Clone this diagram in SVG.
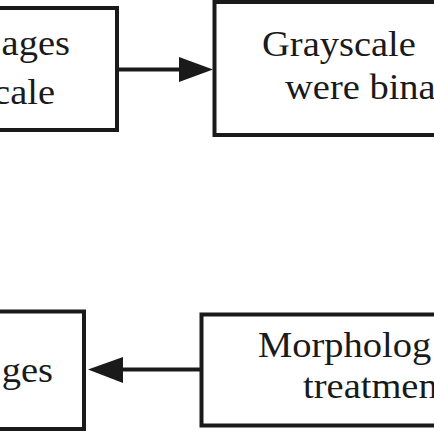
<svg xmlns="http://www.w3.org/2000/svg" width="434" height="434" viewBox="0 0 434 434">
<style>
.box{fill:#fff;stroke:#1a1a1a;stroke-width:4}
.lbl{font-family:"Liberation Serif","Times New Roman",serif;font-size:35px;fill:#1a1a1a}
.conn{stroke:#1a1a1a;stroke-width:4;fill:none}
.head{fill:#1a1a1a}
</style>
<rect width="434" height="434" fill="#fff"/>
<g id="node-convert">
<rect class="box" x="-20" y="8" width="137" height="122"/>
<g transform="scale(1.1 1)">
<text class="lbl" x="63.6" y="55" text-anchor="end">ages</text>
<text class="lbl" x="50" y="104" text-anchor="end">cale</text>
</g>
</g>
<g id="node-binarize">
<rect class="box" x="214.5" y="2" width="240" height="133"/>
<g transform="scale(1.1 1)">
<text class="lbl" x="238.2" y="56">Grayscale</text>
<text class="lbl" x="259.1" y="99">were bina</text>
</g>
</g>
<g id="node-morph">
<rect class="box" x="201.5" y="314.5" width="250" height="111"/>
<g transform="scale(1.1 1)">
<text class="lbl" x="234.5" y="357">Morpholog</text>
<text class="lbl" x="275.5" y="398">treatmen</text>
</g>
</g>
<g id="node-output">
<rect class="box" x="-20" y="311.5" width="104" height="117.5"/>
<g transform="scale(1.1 1)">
<text class="lbl" x="48.2" y="382" text-anchor="end">ges</text>
</g>
</g>
<g id="connectors">
<line class="conn" x1="117" y1="69.5" x2="181" y2="69.5"/>
<polygon class="head" points="179,57 213,69.5 179,82"/>
<line class="conn" x1="201.5" y1="369.5" x2="121" y2="369.5"/>
<polygon class="head" points="123,357 88,369.5 123,383"/>
</g>
</svg>
